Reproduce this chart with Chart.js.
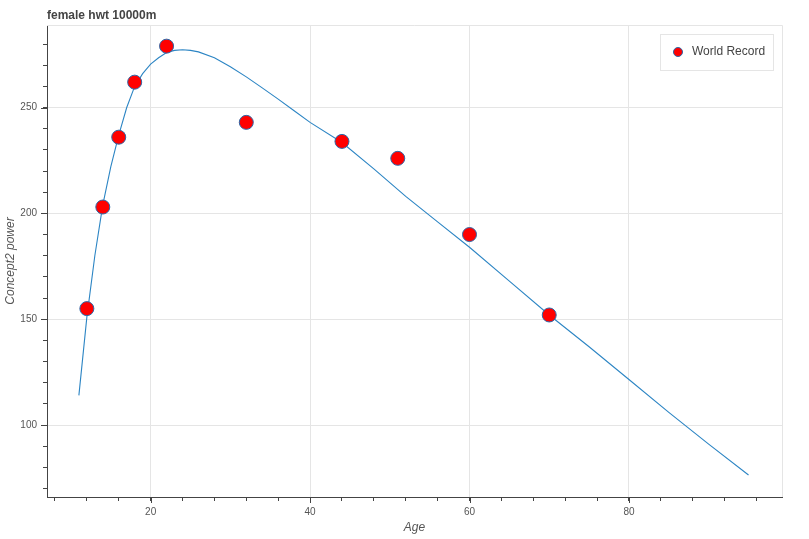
<!DOCTYPE html>
<html><head><meta charset="utf-8">
<script src="https://cdn.jsdelivr.net/npm/chart.js@4.4.1/dist/chart.umd.min.js"></script>
<style>html,body{margin:0;padding:0;background:#fff;}#wrap{width:809px;height:539px;position:relative;}</style>
</head><body><div id="wrap"><canvas id="c"></canvas></div>
<script>
const chartTitle = 'female hwt 10000m';
const seriesLabel = 'World Record';
const xTitle = 'Age';
const yTitle = 'Concept2 power';
const recordAges = [12, 14, 16, 18, 22, 32, 44, 51, 60, 70];
const recordPower = [155, 203, 236, 262, 279, 243, 234, 226, 190, 152];
const fitAges = [11, 12, 13, 14, 15, 16, 17, 18, 19, 20, 21, 22, 23, 24, 25, 26, 28, 30, 32, 34, 36, 38, 40, 44, 48, 52, 56, 60, 65, 70, 75, 80, 85, 90, 95];
const fitPower = [114, 151, 180, 204, 222, 237, 250, 260, 266, 270.5, 273.5, 276, 277, 277.3, 277, 276.3, 273.5, 269.3, 264.5, 259.3, 254, 248.5, 243, 233.5, 221, 208, 196, 184, 168, 152, 137, 121.5, 106, 91, 76.4];
const xMajorTicks = [20, 40, 60, 80];
const yMajorTicks = [100, 150, 200, 250];

const FONT = "'Liberation Sans', Arial, sans-serif";
const GRID = '#e5e5e5';
const AXIS = '#444';

const decor = {
  id: 'decor',
  beforeDatasetsDraw(chart) {
    const {ctx, chartArea: a} = chart;
    ctx.save();
    ctx.strokeStyle = GRID; ctx.lineWidth = 1;
    ctx.beginPath();
    ctx.moveTo(a.left, a.top + 0.5); ctx.lineTo(a.right + 0.5, a.top + 0.5);
    ctx.lineTo(a.right + 0.5, a.bottom);
    ctx.stroke();
    ctx.restore();
  },
  afterDraw(chart) {
    const {ctx, chartArea: a, scales} = chart;
    ctx.save();
    ctx.strokeStyle = AXIS; ctx.lineWidth = 1;
    ctx.beginPath();
    xMajorTicks.forEach(v => { const x = Math.round(scales.x.getPixelForValue(v)) + 0.5; ctx.moveTo(x, a.bottom); ctx.lineTo(x, a.bottom + 6); });
    yMajorTicks.forEach(v => { const y = Math.round(scales.y.getPixelForValue(v)) + 0.5; ctx.moveTo(a.left, y); ctx.lineTo(a.left - 6, y); });
    ctx.stroke();
    ctx.fillStyle = AXIS;
    ctx.font = 'bold 12px ' + FONT;
    ctx.textBaseline = 'middle'; ctx.textAlign = 'left';
    ctx.fillText(chartTitle, a.left, 16);
    const lx = a.right - 122, ly = a.top + 9, lw = 113, lh = 36;
    ctx.fillStyle = '#fff';
    ctx.fillRect(lx, ly, lw, lh);
    ctx.strokeStyle = GRID;
    ctx.strokeRect(lx + 0.5, ly + 0.5, lw, lh);
    ctx.beginPath();
    ctx.arc(lx + 18, ly + 18, 4.5, 0, Math.PI * 2);
    ctx.fillStyle = 'red'; ctx.fill();
    ctx.strokeStyle = '#2b67a8'; ctx.lineWidth = 1; ctx.stroke();
    ctx.fillStyle = AXIS;
    ctx.font = '12px ' + FONT;
    ctx.fillText(seriesLabel, lx + 32, ly + 18);
    ctx.restore();
  }
};

new Chart(document.getElementById('c'), {
  type: 'scatter',
  data: {
    datasets: [
      {
        label: seriesLabel,
        data: recordAges.map((a, i) => ({x: a, y: recordPower[i]})),
        backgroundColor: 'red',
        borderColor: '#2b67a8',
        borderWidth: 1,
        pointRadius: 7,
        pointHoverRadius: 7
      },
      {
        label: 'fit',
        type: 'line',
        data: fitAges.map((a, i) => ({x: a, y: fitPower[i]})),
        borderColor: '#2c85c4',
        borderWidth: 1.1,
        pointRadius: 0,
        tension: 0,
        fill: false
      }
    ]
  },
  options: {
    responsive: true,
    maintainAspectRatio: false,
    animation: false,
    devicePixelRatio: 1,
    layout: {padding: {top: 25, right: 27, left: 0, bottom: 0}},
    plugins: {legend: {display: false}, tooltip: {enabled: false}, title: {display: false}},
    scales: {
      x: {
        type: 'linear', min: 7, max: 99.2,
        afterFit(s) { s.height = 42; },
        border: {color: AXIS, width: 1},
        grid: {
          color: c => (c.tick && xMajorTicks.includes(c.tick.value)) ? GRID : 'rgba(0,0,0,0)',
          tickColor: AXIS, tickLength: 4, drawTicks: true
        },
        ticks: {
          stepSize: 4, includeBounds: false, autoSkip: false, maxRotation: 0, padding: 5,
          color: '#555', font: {family: FONT, size: 10},
          callback: v => xMajorTicks.includes(v) ? String(v) : ''
        },
        title: {display: true, text: xTitle, color: '#555', font: {family: FONT, size: 12, style: 'italic'}, padding: {top: 0, bottom: 4}}
      },
      y: {
        type: 'linear', min: 66, max: 289,
        afterFit(s) { s.width = 47; },
        border: {color: AXIS, width: 1},
        grid: {
          color: c => (c.tick && yMajorTicks.includes(c.tick.value)) ? GRID : 'rgba(0,0,0,0)',
          tickColor: AXIS, tickLength: 4, drawTicks: true
        },
        ticks: {
          stepSize: 10, includeBounds: false, autoSkip: false, padding: 6,
          color: '#555', font: {family: FONT, size: 10},
          callback: v => yMajorTicks.includes(v) ? String(v) : ''
        },
        title: {display: true, text: yTitle, color: '#555', font: {family: FONT, size: 12, style: 'italic'}, padding: {top: 3, bottom: 0}}
      }
    }
  },
  plugins: [decor]
});
</script></body></html>
